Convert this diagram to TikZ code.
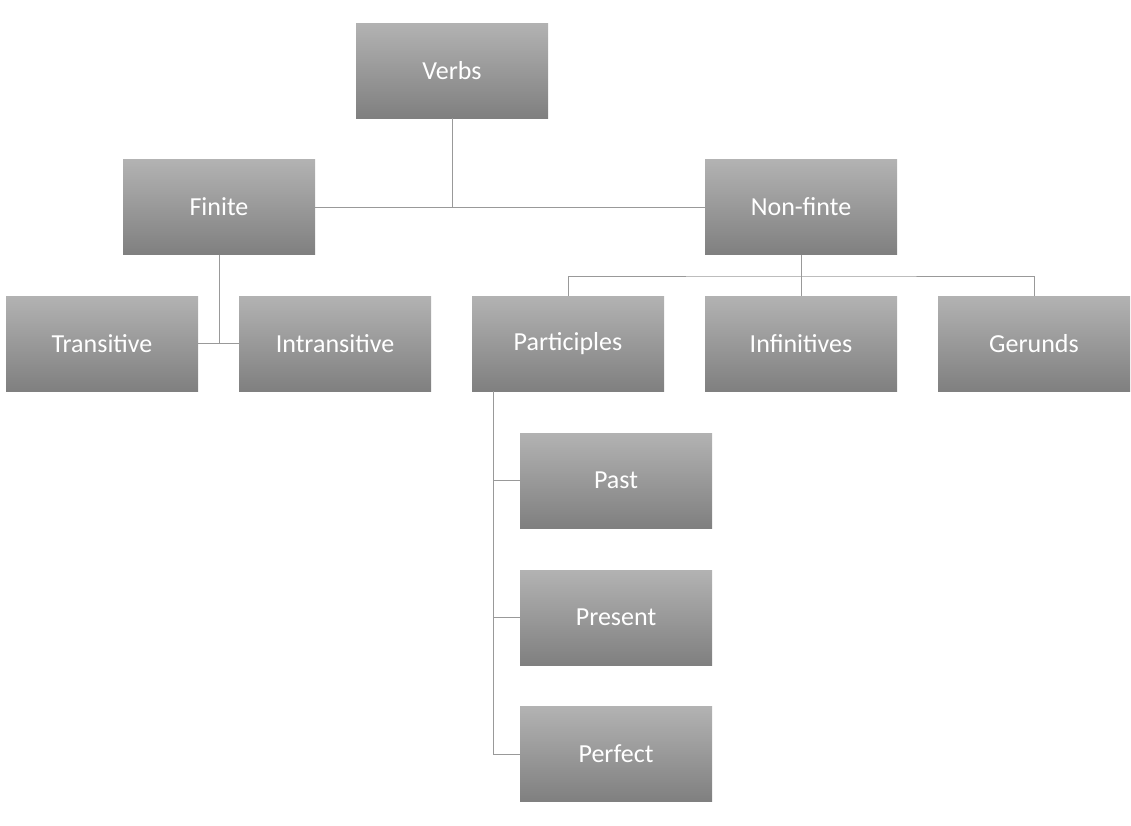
\documentclass[tikz,border=0pt]{standalone}
\usepackage{fontspec}
\setmainfont{Carlito}
\begin{document}
\begin{tikzpicture}[x=1pt,y=-1pt,
  box/.style={minimum width=192pt,minimum height=95pt,inner sep=0pt,top color=black!30,bottom color=black!50,text=white,font=\fontsize{26}{30}\selectfont},
  conn/.style={draw=black!40,line width=0.8pt}]
\useasboundingbox (0,0) rectangle (1131,825);
\node[box] (verbs) at (452,70.5) {Verbs};
\node[box] (finite) at (219,207) {Finite};
\node[box] (nonf) at (801,207) {Non-finte};
\node[box] (trans) at (102,343.5) {Transitive};
\node[box] (intr) at (335,343.5) {Intransitive};
\node[box] (part) at (568,343.5) {Participles};
\node[box] (inf) at (801,343.5) {Infinitives};
\node[box] (ger) at (1034,343.5) {Gerunds};
\node[box] (past) at (616,480.5) {Past};
\node[box] (pres) at (616,617.5) {Present};
\node[box] (perf) at (616,754) {Perfect};
\coordinate (vj) at (452,207);
\coordinate (fj) at (219,343.5);
\coordinate (nj) at (801,276);
\coordinate (pl) at (493,276);
\draw[conn] (verbs.south) -- (vj);
\draw[conn] (finite.east) -- (nonf.west);
\draw[conn] (finite.south) -- (fj);
\draw[conn] (trans.east) -- (intr.west);
\draw[conn] (nonf.south) -- (nj);
\draw[conn] (part.north) |- (nj) -| (ger.north);
\draw[conn] (nj) -- (inf.north);
\draw[conn] (part.south -| pl) |- (perf.west);
\draw[conn] (past.west) -- (past.west -| pl);
\draw[conn] (pres.west) -- (pres.west -| pl);
\end{tikzpicture}
\end{document}
